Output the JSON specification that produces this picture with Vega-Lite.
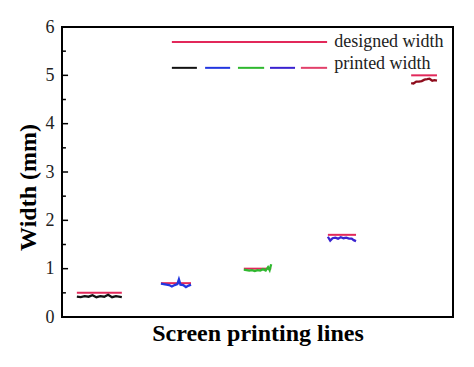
{
  "$schema": "https://vega.github.io/schema/vega-lite/v6.json",
  "width": 391,
  "height": 290,
  "autosize": {"type": "none"},
  "padding": {"left": 62, "top": 27, "right": 21, "bottom": 50},
  "background": "white",
  "config": {
    "view": {"stroke": "black", "strokeWidth": 2},
    "font": "Liberation Serif"
  },
  "datasets": {
    "designed": [
      {"seg": "L1", "x1": 3.8, "x2": 15.3, "w": 0.5},
      {"seg": "L2", "x1": 25.3, "x2": 33.0, "w": 0.7},
      {"seg": "L3", "x1": 46.5, "x2": 53.5, "w": 1.0},
      {"seg": "L4", "x1": 68.0, "x2": 75.2, "w": 1.7},
      {"seg": "L5", "x1": 89.3, "x2": 95.9, "w": 5.0}
    ],
    "printed": [
      {"seg": "L1", "x": 3.8, "w": 0.42}, {"seg": "L1", "x": 4.8, "w": 0.41}, {"seg": "L1", "x": 5.8, "w": 0.43},
      {"seg": "L1", "x": 6.8, "w": 0.42}, {"seg": "L1", "x": 7.8, "w": 0.45}, {"seg": "L1", "x": 8.8, "w": 0.41},
      {"seg": "L1", "x": 9.8, "w": 0.43}, {"seg": "L1", "x": 10.8, "w": 0.42}, {"seg": "L1", "x": 11.8, "w": 0.46},
      {"seg": "L1", "x": 12.8, "w": 0.41}, {"seg": "L1", "x": 13.8, "w": 0.43}, {"seg": "L1", "x": 15.3, "w": 0.41},

      {"seg": "L2", "x": 25.3, "w": 0.69}, {"seg": "L2", "x": 26.0, "w": 0.68}, {"seg": "L2", "x": 26.7, "w": 0.67},
      {"seg": "L2", "x": 27.4, "w": 0.66}, {"seg": "L2", "x": 28.1, "w": 0.63}, {"seg": "L2", "x": 28.8, "w": 0.66},
      {"seg": "L2", "x": 29.5, "w": 0.68}, {"seg": "L2", "x": 29.9, "w": 0.78}, {"seg": "L2", "x": 30.3, "w": 0.67},
      {"seg": "L2", "x": 31.0, "w": 0.66}, {"seg": "L2", "x": 31.7, "w": 0.62}, {"seg": "L2", "x": 32.4, "w": 0.65},
      {"seg": "L2", "x": 33.0, "w": 0.67},

      {"seg": "L3", "x": 46.5, "w": 0.98}, {"seg": "L3", "x": 47.2, "w": 0.97}, {"seg": "L3", "x": 47.9, "w": 0.96},
      {"seg": "L3", "x": 48.6, "w": 0.97}, {"seg": "L3", "x": 49.3, "w": 0.95}, {"seg": "L3", "x": 50.0, "w": 0.97},
      {"seg": "L3", "x": 50.7, "w": 0.96}, {"seg": "L3", "x": 51.4, "w": 0.99}, {"seg": "L3", "x": 52.1, "w": 0.96},
      {"seg": "L3", "x": 52.7, "w": 1.03}, {"seg": "L3", "x": 53.1, "w": 0.97}, {"seg": "L3", "x": 53.5, "w": 1.09},

      {"seg": "L4", "x": 68.0, "w": 1.66}, {"seg": "L4", "x": 68.6, "w": 1.58}, {"seg": "L4", "x": 69.2, "w": 1.63},
      {"seg": "L4", "x": 69.9, "w": 1.64}, {"seg": "L4", "x": 70.6, "w": 1.62}, {"seg": "L4", "x": 71.3, "w": 1.65},
      {"seg": "L4", "x": 72.0, "w": 1.63}, {"seg": "L4", "x": 72.7, "w": 1.64}, {"seg": "L4", "x": 73.4, "w": 1.62},
      {"seg": "L4", "x": 74.1, "w": 1.62}, {"seg": "L4", "x": 74.6, "w": 1.59}, {"seg": "L4", "x": 75.2, "w": 1.57},

      {"seg": "L5", "x": 89.3, "w": 4.84}, {"seg": "L5", "x": 89.9, "w": 4.83}, {"seg": "L5", "x": 90.6, "w": 4.87},
      {"seg": "L5", "x": 91.3, "w": 4.87}, {"seg": "L5", "x": 92.0, "w": 4.88}, {"seg": "L5", "x": 92.7, "w": 4.91},
      {"seg": "L5", "x": 93.4, "w": 4.92}, {"seg": "L5", "x": 94.0, "w": 4.93}, {"seg": "L5", "x": 94.7, "w": 4.89},
      {"seg": "L5", "x": 95.3, "w": 4.90}, {"seg": "L5", "x": 95.9, "w": 4.89}
    ],
    "key_lines": [
      {"seg": "D", "x1": 28.1, "x2": 67.8, "w": 5.69},
      {"seg": "L1", "x1": 28.1, "x2": 34.5, "w": 5.155},
      {"seg": "L2", "x1": 36.6, "x2": 43.0, "w": 5.155},
      {"seg": "L3", "x1": 45.0, "x2": 51.7, "w": 5.155},
      {"seg": "L4", "x1": 53.2, "x2": 59.6, "w": 5.155},
      {"seg": "L5k", "x1": 61.1, "x2": 67.8, "w": 5.155}
    ],
    "key_text": [
      {"x": 69.6, "w": 5.69, "label": "designed width"},
      {"x": 69.6, "w": 5.24, "label": "printed width"}
    ],
    "y_ticks": [
      {"w": 0.5, "x0": 0, "len": 1.0}, {"w": 1, "x0": 0, "len": 1.55}, {"w": 1.5, "x0": 0, "len": 1.0},
      {"w": 2, "x0": 0, "len": 1.55}, {"w": 2.5, "x0": 0, "len": 1.0}, {"w": 3, "x0": 0, "len": 1.55},
      {"w": 3.5, "x0": 0, "len": 1.0}, {"w": 4, "x0": 0, "len": 1.55}, {"w": 4.5, "x0": 0, "len": 1.0},
      {"w": 5, "x0": 0, "len": 1.55}, {"w": 5.5, "x0": 0, "len": 1.0}
    ]
  },
  "layer": [
    {
      "data": {"name": "designed"},
      "mark": {"type": "rule", "strokeWidth": 2, "color": "#e2285a"},
      "encoding": {
        "x": {
          "field": "x1", "type": "quantitative",
          "scale": {"domain": [0, 100], "nice": false},
          "axis": {
            "title": "Screen printing lines", "labels": false, "ticks": false, "grid": false, "domain": false,
            "titleFont": "Liberation Serif", "titleFontSize": 24, "titleFontWeight": "bold",
            "titleColor": "black", "titlePadding": 4
          }
        },
        "x2": {"field": "x2"},
        "y": {
          "field": "w", "type": "quantitative",
          "scale": {"domain": [0, 6], "nice": false},
          "axis": {
            "title": "Width (mm)",
            "values": [0, 1, 2, 3, 4, 5, 6],
            "grid": false, "domain": false, "ticks": false,
            "labelPadding": 8,
            "labelFont": "Liberation Serif", "labelFontSize": 18, "labelColor": "#222",
            "titleFont": "Liberation Serif", "titleFontSize": 24, "titleFontWeight": "bold",
            "titleColor": "black", "titlePadding": 5, "titleY": 160
          }
        }
      }
    },
    {
      "data": {"name": "y_ticks"},
      "mark": {"type": "rule", "strokeWidth": 1.5, "color": "black"},
      "encoding": {
        "x": {"field": "x0", "type": "quantitative"},
        "x2": {"field": "len"},
        "y": {"field": "w", "type": "quantitative"}
      }
    },
    {
      "data": {"name": "printed"},
      "mark": {"type": "line", "strokeWidth": 2.3},
      "encoding": {
        "x": {"field": "x", "type": "quantitative"},
        "y": {"field": "w", "type": "quantitative"},
        "detail": {"field": "seg"},
        "color": {
          "field": "seg", "type": "nominal", "legend": null,
          "scale": {
            "domain": ["D", "L1", "L2", "L3", "L4", "L5", "L5k"],
            "range": ["#e2285a", "#111111", "#2236e0", "#2fb82f", "#3a22d0", "#8e0c1c", "#e2406a"]
          }
        }
      }
    },
    {
      "data": {"name": "key_lines"},
      "mark": {"type": "rule", "strokeWidth": 2},
      "encoding": {
        "x": {"field": "x1", "type": "quantitative"},
        "x2": {"field": "x2"},
        "y": {"field": "w", "type": "quantitative"},
        "color": {"field": "seg", "type": "nominal", "legend": null}
      }
    },
    {
      "data": {"name": "key_text"},
      "mark": {"type": "text", "align": "left", "baseline": "middle", "font": "Liberation Serif", "fontSize": 18, "color": "#222"},
      "encoding": {
        "x": {"field": "x", "type": "quantitative"},
        "y": {"field": "w", "type": "quantitative"},
        "text": {"field": "label"}
      }
    }
  ]
}
